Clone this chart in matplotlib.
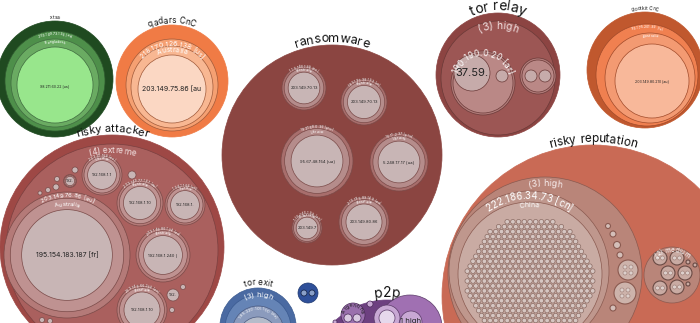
import numpy as np
import matplotlib.pyplot as plt
from matplotlib.patches import Circle
from matplotlib.font_manager import FontProperties
from matplotlib.textpath import text_to_path

plt.rcParams['font.family'] = ['Inter', 'DejaVu Sans']

# ---- data: categories and labels ----
categories = ["xtsa", "qadars CnC", "ransomware", "tor relay", "gootkit CnC",
              "risky attacker", "risky reputation", "tor exit", "p2p"]
risk_levels = {"risky attacker": "(4) extreme", "tor relay": "(3) high",
               "risky reputation": "(3) high", "tor exit": "(3) high"}
single_hosts = {
    "xtsa": ("203.149.73.136 [au]", "Bangladesh", "98.211.60.22 [us]"),
    "qadars CnC": ("218.170.126.138 [us]", "Australia", "203.149.75.86 [au"),
    "gootkit CnC": ("93.175.201.93 [ru]", "Australia", "203.149.80.210 [au]"),
}
ransom_hosts = ["203.149.70.13", "203.149.70.13", "95.67.48.154 [ua]",
                "5.248.17.17 [ua]", "203.149.7", "203.149.80.86"]
ransom_src = ["1.10.140.199 [au]", "185.193.38.153 [ru]", "192.168.0.30 [priv]",
              "10.11.2.37 [priv]", "1.10.140.199 [au]", "210.195.89.149 [au]"]
ransom_country = ["Australia", "Australia", "Ukraine", "Ukraine", "Australia", "Australia"]
attacker_hosts = ["195.154.183.187 [fr]", "192.168.1.1", "192.168.1.10", "192.168.1.",
                  "192.168.1.240 [", "192.168.1.10", "192."]
attacker_src = ["203.149.76.86 [au]", "203.51.158 [au]", "203.149.77.167 [au]",
                "104.1.108 [us]", "203.149.80.134 [au]", "203.149.66.250 [au]", ""]
attacker_country = ["Australia", "Ukraine", "Australia", "Serbia", "Australia", "Australia", ""]
china_src = "222.186.34.73 [cn]"
china_hosts = 640          # number of destination hosts in the China cluster

# ---- layout (pixel space, y down) ----
fig = plt.figure(figsize=(7.0, 3.23), dpi=100)
ax = fig.add_axes([0, 0, 1, 1])
ax.set_xlim(0, 700)
ax.set_ylim(323, 0)
ax.set_aspect('equal')
ax.axis('off')


def circ(x, y, r, fc, ec='#6a3a38', lw=0.5, z=1):
    ax.add_patch(Circle((x, y), r, facecolor=fc, edgecolor=ec, linewidth=lw, zorder=z))


def ctext(x, y, s, size, color='#222222', z=20):
    ax.text(x, y, s, fontsize=size, color=color, ha='center', va='center', zorder=z)


def text_w(s, prop):
    if not s:
        return 0.0
    # pad with bars so that leading/trailing spaces count
    w_pad, _, _ = text_to_path.get_text_width_height_descent('|' + s + '|', prop, ismath=False)
    w_bar, _, _ = text_to_path.get_text_width_height_descent('||', prop, ismath=False)
    return (w_pad - w_bar) * 100 / 72


def arc_text(cx, cy, r, s, size, color='#111111', z=20):
    prop = FontProperties(family=['Inter', 'DejaVu Sans'], size=size)
    total = text_w(s, prop)
    for i, ch in enumerate(s):
        if ch == ' ':
            continue
        left = text_w(s[:i], prop)
        right = text_w(s[:i + 1], prop)
        mid = (left + right) / 2 - total / 2
        th = mid / r
        x = cx + r * np.sin(th)
        y = cy - r * np.cos(th)
        ax.text(x, y, ch, fontsize=size, color=color, ha='center', va='baseline',
                rotation=-np.degrees(th), rotation_mode='anchor', zorder=z)


def host(x, y, r, ring_cols, label, src='', country='', lsize=3.0, edge='#7a4a48'):
    radii = [r, r * 0.9, r * 0.72]
    for rr, c in zip(radii, ring_cols):
        circ(x, y, rr, c, ec=edge, lw=0.5, z=3)
    if label:
        ctext(x, y, label, lsize)
    if src:
        arc_text(x, y, r * 0.92, src, lsize * 0.85, color='white')
    if country:
        arc_text(x, y, r * 0.78, country, lsize * 0.85, color='white')


# xtsa (green)
circ(55, 79, 58, '#1f4a20', ec='#1f4a20')
circ(55, 81, 50, '#4e8f4a', ec='#2f5a2f')
circ(55, 83, 44, '#6aab62', ec='#3f6a3f')
circ(55, 85, 38, '#98e68c', ec='#3f6a3f')
arc_text(55, 79, 60, categories[0], 3.5)
arc_text(55, 81, 46, single_hosts["xtsa"][0], 2.6, color='white')
arc_text(55, 83, 40, single_hosts["xtsa"][1], 2.6, color='white')
ctext(55, 86, single_hosts["xtsa"][2], 2.6)

# qadars CnC (orange)
circ(172, 81, 56, '#f07b45', ec='#f07b45')
circ(172, 85, 46, '#f5a072', ec='#a05a3a')
circ(172, 87, 41, '#f8b792', ec='#a05a3a')
circ(172, 89, 34, '#fbd7c3', ec='#a05a3a')
arc_text(172, 81, 58, categories[1], 6.0)
arc_text(172, 85, 39, single_hosts["qadars CnC"][0], 5.0, color='white')
arc_text(172, 87, 35, single_hosts["qadars CnC"][1], 5.0, color='white')
ctext(172, 89, single_hosts["qadars CnC"][2], 5.0)

# gootkit CnC (dark orange, cut at right edge)
circ(645, 70, 58, '#c0582e', ec='#c0582e')
circ(647, 75, 51, '#f08050', ec='#a04a2a')
circ(650, 78, 45, '#f39a72', ec='#a04a2a')
circ(652, 81, 37, '#f8b89a', ec='#a04a2a')
arc_text(645, 70, 60, categories[4], 3.5)
arc_text(647, 75, 47, single_hosts["gootkit CnC"][0], 2.6, color='white')
arc_text(650, 78, 41, single_hosts["gootkit CnC"][1], 2.6, color='white')
ctext(652, 81, single_hosts["gootkit CnC"][2], 2.6)

# ransomware
circ(332, 155, 110, '#8b4541', ec='#8b4541')
arc_text(332, 155, 113, categories[2], 9.0)
ring = ['#a86e6c', '#b58c8b', '#c8b5b5']
rx = [304, 364, 317, 399, 307, 364]
ry = [88, 102, 161, 162, 228, 222]
rr = [22, 23, 36, 29, 15, 25]
for i in range(6):
    host(rx[i], ry[i], rr[i], ring, ransom_hosts[i], ransom_src[i], ransom_country[i], lsize=3.0)

# tor relay
circ(498, 75, 62, '#8c4442', ec='#8c4442')
circ(498, 78, 57, '#9c5654', ec='#6a3a38')
arc_text(498, 75, 65, categories[3], 10)
arc_text(498, 78, 49, risk_levels["tor relay"], 7.5, color='#f0e0e0')
circ(483, 83, 32, '#b07a78', ec='#6a3a38')
circ(483, 83, 30, '#ba8886', ec='#6a3a38')
arc_text(483, 83, 27, "190.190.0.20 [ar]", 6, color='white')
circ(472, 73, 18, '#c6abaa', ec='#6a3a38')
ctext(472, 73, "37.59.", 8)
circ(502, 76, 6, '#c6abaa', ec='#6a3a38')
circ(538, 76, 18, '#b07a78', ec='#6a3a38')
circ(538, 76, 16, '#ba8886', ec='#6a3a38')
circ(531, 76, 6, '#c6abaa', ec='#6a3a38')
circ(545, 76, 6, '#c6abaa', ec='#6a3a38')

# risky attacker
circ(112, 247, 112, '#9e4845', ec='#9e4845')
circ(112, 250, 106, '#aa605e', ec='#7a4040')
arc_text(112, 247, 115, categories[5], 8)
arc_text(112, 250, 97, risk_levels["risky attacker"], 6, color='#f3e3e3')
ax_x = [67, 102, 140, 185, 163, 142, 70]
ax_y = [255, 175, 203, 205, 255, 310, 181]
ax_r = [63, 20, 23, 20, 27, 25, 6.5]
ring_a = ['#b47a78', '#bf9291', '#c8b5b5']
for i in range(7):
    host(ax_x[i], ax_y[i], ax_r[i], ring_a, attacker_hosts[i], attacker_src[i],
         attacker_country[i], lsize=5.0 if i == 0 else 3.0)
# tiny hosts
tx = [75, 132, 57, 48, 56, 40, 183, 172, 42, 50, 173]
ty = [170, 175, 179, 190, 187, 193, 287, 310, 320, 321, 295]
tr = [3, 4, 2.5, 2.5, 3, 2, 2.5, 2.5, 2.5, 2.5, 6]
for x, y, r in zip(tx, ty, tr):
    circ(x, y, r, '#c8b5b5', ec='#7a4a48', z=3)
ctext(173, 295, "192.", 3)

# risky reputation
circ(593, 296, 151, '#c96a55', ec='#c96a55')
arc_text(593, 296, 154, categories[6], 8.5)
circ(545, 274, 97, '#b98579', ec='#8a5a50')
arc_text(545, 274, 88, risk_levels["risky reputation"], 6.5, color='#f8eeee')
circ(529, 271, 80, '#bf978d', ec='#8a5a50')
circ(530, 274, 72, '#c9aba3', ec='#8a5a50')
arc_text(529, 271, 72, china_src, 7, color='white')
arc_text(529, 271, 64, "China", 5, color='white')
# hex grid of single-host circles inside China cluster
step = 5.7
cx0, cy0, R = 530, 281, 64
pts = []
for j in range(-14, 15):
    for i in range(-14, 15):
        x = cx0 + i * step + (j % 2) * step / 2
        y = cy0 + j * step * 0.866
        if (x - cx0) ** 2 + (y - cy0) ** 2 < R ** 2 and y > 206:
            pts.append((x, y))
for x, y in pts[:china_hosts]:
    circ(x, y, 2.3, '#d6c6c2', ec='#8a6a62', lw=0.5, z=4)
sx = [608, 613, 617, 620, 613]
sy = [226, 234, 245, 255, 308]
sr = [2.5, 3, 3.5, 3, 3]
for x, y, r in zip(sx, sy, sr):
    circ(x, y, r, '#d4bfb9', ec='#8a5a50', lw=0.8, z=4)
for (x, y, r) in [(628, 270, 10), (625, 293, 11)]:
    circ(x, y, r, '#cdb3ab', ec='#8a5a50', lw=0.8, z=4)
    for dx, dy in [(-3, -3), (3, -3), (-3, 3), (3, 3)]:
        circ(x + dx, y + dy, 2.0, '#ddd0cc', ec='#9a7a72', lw=0.4, z=5)
# (2) medium
circ(672, 275, 28, '#b98579', ec='#8a5a50')
arc_text(672, 275, 23, "(2) medium", 4.5, color='white')
for x, y in [(660, 258), (677, 258), (668, 273), (685, 273), (660, 288), (677, 287)]:
    circ(x, y, 7, '#c9aba3', ec='#6a4a44', lw=0.8, z=4)
    circ(x - 2.5, y, 2, '#ddd0cc', ec='#9a7a72', lw=0.4, z=5)
    circ(x + 2.5, y, 2, '#ddd0cc', ec='#9a7a72', lw=0.4, z=5)
for x, y in [(688, 262), (695, 265), (688, 284)]:
    circ(x, y, 2, '#c9aba3', ec='#6a4a44', lw=0.8, z=4)

# tor exit
circ(258, 326, 38, '#4a6aa2', ec='#3a5a90')
arc_text(258, 326, 41, categories[7], 6)
circ(258, 328, 33, '#6584b6', ec='#3a5a90')
arc_text(258, 326, 29, risk_levels["tor exit"], 5.5, color='white')
circ(258, 332, 26, '#8b9bbd', ec='#4a5a80')
arc_text(258, 332, 22, "185.220.101.100 [de]", 3, color='white')
circ(258, 336, 19, '#b5bcca', ec='#4a5a80')
circ(308, 293, 10, '#2f509a', ec='#203a70')
circ(304, 293, 3, '#8aa0c8', ec='#1a2a50', lw=0.6)
circ(312, 293, 3, '#8aa0c8', ec='#1a2a50', lw=0.6)

# p2p
circ(387, 375, 75, '#6d4080', ec='#6d4080')
arc_text(387, 375, 78, categories[8], 10)
circ(353, 315, 12, '#9a70ad', ec='#4a2a58')
circ(348, 318, 4, '#d8c8e0', ec='#4a2a58')
circ(357, 318, 4, '#d8c8e0', ec='#4a2a58')
arc_text(353, 315, 8, "Argentina", 3.5, color='#111111')
circ(410, 327, 32, '#a070b2', ec='#5a3a68')
circ(387, 318, 13, '#c8a8d4', ec='#5a3a68')
circ(387, 318, 8, '#e6d8ec', ec='#5a3a68')
circ(411, 322, 11, '#c8a8d4', ec='#5a3a68')
ctext(411, 321, "1 high", 5.5)
circ(370, 304, 3, '#c8a8d4', ec='#4a2a58')
circ(335, 322, 2, '#c8a8d4', ec='#4a2a58')

fig.savefig('out.png', dpi=100, facecolor='white')
